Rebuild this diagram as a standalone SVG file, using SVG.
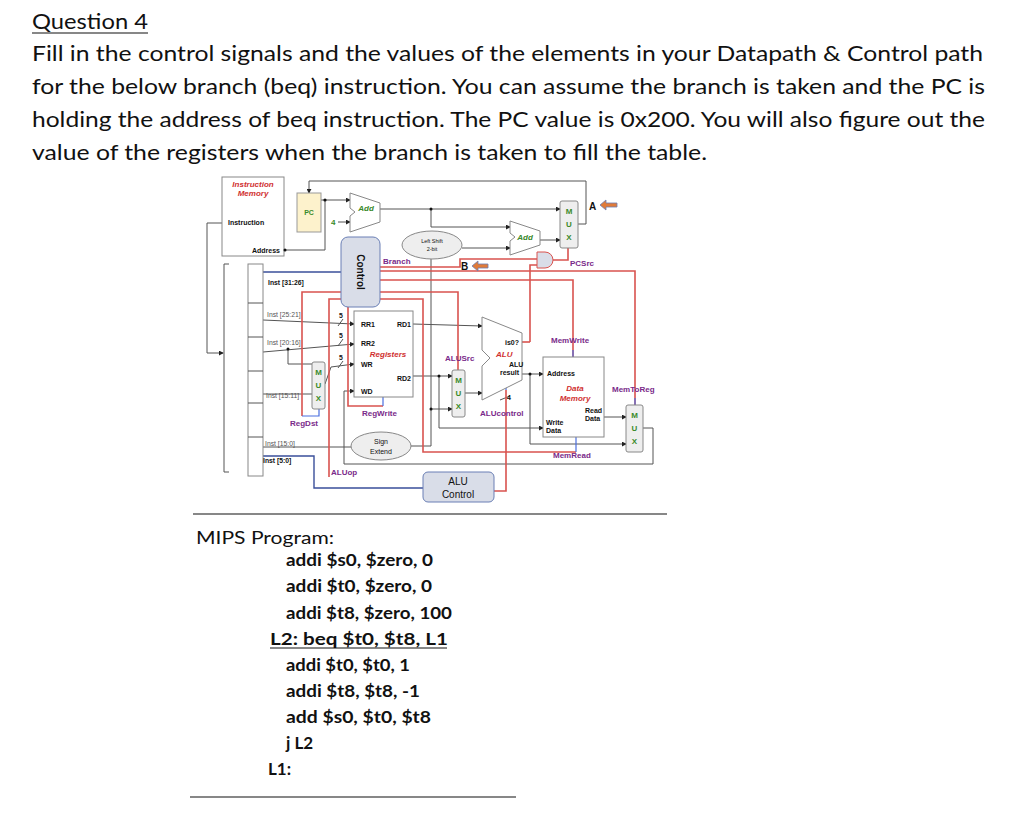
<svg xmlns="http://www.w3.org/2000/svg" width="1024" height="820" viewBox="0 0 1024 820">
<defs>
<marker id="ar" viewBox="0 0 6 6" refX="5" refY="3" markerWidth="5" markerHeight="5" orient="auto"><path d="M0,0L6,3L0,6z" fill="#222"/></marker>
</defs>
<style>
.t{font-family:"Liberation Sans",Arial,sans-serif;fill:#111}
.L{font-family:Lato,"Open Sans",sans-serif;fill:#111}
.h{font-size:21.5px}
.s{font-size:7px;font-weight:bold}
.g{fill:#3a8a2a;font-weight:bold}
.p{fill:#7a2a8a;font-weight:bold;font-size:8px}
.r{fill:#d03030;font-style:italic;font-weight:bold}
.w{fill:none;stroke:#555;stroke-width:1}
.c{fill:none;stroke:#d9534f;stroke-width:1.6}
.b{fill:none;stroke:#3a4f9a;stroke-width:1.4}
.u{fill:none;stroke:#4a6ee0;stroke-width:1.2}
.box{fill:#fff;stroke:#888;stroke-width:1}
.mux{fill:#eee;stroke:#888;stroke-width:1}
.code{font-size:17px;font-weight:bold}
.oa{fill:#e07b39;stroke:#6a7fb5;stroke-width:0.8}
</style>
<rect width="1024" height="820" fill="#fff"/>
<text class="L h" x="32" y="29" textLength="116" lengthAdjust="spacingAndGlyphs">Question 4</text>
<line x1="32" y1="33" x2="148" y2="33" stroke="#111" stroke-width="1.2"/>
<text class="L h" x="32" y="61" textLength="951" lengthAdjust="spacingAndGlyphs">Fill in the control signals and the values of the elements in your Datapath &amp; Control path</text>
<text class="L h" x="32" y="94" textLength="953" lengthAdjust="spacingAndGlyphs">for the below branch (beq) instruction. You can assume the branch is taken and the PC is</text>
<text class="L h" x="32" y="127" textLength="953" lengthAdjust="spacingAndGlyphs">holding the address of beq instruction. The PC value is 0x200. You will also figure out the</text>
<text class="L h" x="32" y="160" textLength="675" lengthAdjust="spacingAndGlyphs">value of the registers when the branch is taken to fill the table.</text>

<g id="connectors">
<polyline class="w" points="578,224 586,224 586,181 309,181 309,193" marker-end="url(#ar)"/>
<polyline class="w" points="321,200 350,200" marker-end="url(#ar)"/>
<polyline class="w" points="325,200 325,250 285,250"/>
<polyline class="w" points="338,222 350,222" marker-end="url(#ar)"/>
<polyline class="w" points="380,209 560,209" marker-end="url(#ar)"/>
<polyline class="w" points="431,209 431,227 510,227" marker-end="url(#ar)"/>
<polyline class="w" points="462,248 510,248" marker-end="url(#ar)"/>
<polyline class="w" points="540,240 560,240" marker-end="url(#ar)"/>
<polyline class="w" points="222,223 207,223 207,353 223,353" marker-end="url(#ar)"/>
<polyline class="w" points="224,264 224,472"/>
<line class="w" x1="224" y1="264" x2="229" y2="264"/><line class="w" x1="224" y1="472" x2="229" y2="472"/>
<polyline class="w" points="263,320 354,324" marker-end="url(#ar)"/>
<polyline class="w" points="263,352 354,344" marker-end="url(#ar)"/>
<polyline class="w" points="288,349 288,364 312,364"/>
<polyline class="w" points="263,394 312,394"/>
<polyline class="w" points="325,384 331,367 354,364" marker-end="url(#ar)"/>
<polyline class="w" points="263,447 351,447"/>
<polyline class="w" points="411,446 431,446 431,259"/>
<polyline class="w" points="431,409 452,409" marker-end="url(#ar)"/>
<polyline class="w" points="413,324 482,326" marker-end="url(#ar)"/>
<polyline class="w" points="413,376 452,376" marker-end="url(#ar)"/>
<polyline class="w" points="439,376 439,428 543,428" marker-end="url(#ar)"/>
<polyline class="w" points="465,393 482,393" marker-end="url(#ar)"/>
<polyline class="w" points="522,374 543,374" marker-end="url(#ar)"/>
<polyline class="w" points="530,374 530,444 626,444" marker-end="url(#ar)"/>
<polyline class="w" points="604,417 626,417" marker-end="url(#ar)"/>
<polyline class="w" points="643,428 653,428 653,464 344,464 344,391 354,391" marker-end="url(#ar)"/>
<g stroke="#555" stroke-width="1">
<line x1="338" y1="326" x2="343" y2="319"/><line x1="338" y1="346" x2="343" y2="339"/><line x1="338" y1="368" x2="343" y2="361"/>
<line x1="500" y1="400" x2="510" y2="396"/>
</g>
<polyline class="b" points="263,272 341,272"/>
<polyline class="b" points="263,456 314,456 314,488 423,488"/>
<polyline class="c" points="380,267 460,267 460,259 537,259"/>
<polyline class="c" points="530,342 530,265 537,265"/>
<polyline class="c" points="553,260 568,260 568,248"/>
<polyline class="c" points="380,271 635,271 635,405"/>
<polyline class="c" points="380,280 573,280 573,357"/>
<polyline class="c" points="302,416 302,292 458,292 458,370"/>
<polyline class="c" points="329,477 329,299 423,299 423,452 576,452"/>
<polyline class="c" points="348,307 348,406 383,406"/>
<polyline class="c" points="494,491 506,491 506,390"/>
<polyline class="c" points="522,342 530,342"/>
<polyline class="u" points="302,416 319,416 319,409"/>
<polyline class="u" points="383,406 383,397"/>
<polyline class="u" points="573,357 573,350"/>
<polyline class="u" points="576,452 576,437"/>
<polyline class="u" points="635,405 635,398"/>
<polyline class="u" points="506,390 506,385"/>
</g>

<g id="imem"><rect class="box" x="222" y="177" width="62" height="79"/>
<text class="t r" x="253" y="187" font-size="8" text-anchor="middle">Instruction</text>
<text class="t r" x="253" y="196" font-size="8" text-anchor="middle">Memory</text>
<text class="t s" x="228" y="225">Instruction</text>
<text class="t s" x="252" y="253">Address</text><circle cx="285" cy="250" r="1.5" fill="#111"/></g>
<g id="pc"><rect x="297" y="193" width="24" height="39" fill="#fdf2cc" stroke="#999"/>
<text class="t g" x="309" y="215" font-size="7" text-anchor="middle">PC</text><circle cx="325" cy="200" r="1.6" fill="#111"/></g>
<text class="t g" x="331" y="225" font-size="8">4</text>
<g id="add1"><polygon class="box" points="350,193 380,203 380,222 350,232 350,216 355,212 350,208"/>
<text class="t g" x="366" y="211" font-size="8" font-style="italic" text-anchor="middle">Add</text><circle cx="431" cy="209" r="1.5" fill="#111"/></g>
<g id="shift"><ellipse cx="432" cy="245" rx="30" ry="14" fill="#eee" stroke="#888"/>
<text class="t" x="432" y="243" font-size="5.5" fill="#3a8a2a" text-anchor="middle">Left Shift</text>
<text class="t" x="432" y="251" font-size="5.5" fill="#3a8a2a" text-anchor="middle">2-bit</text></g>
<g id="add2"><polygon class="box" points="510,221 540,231 540,245 510,255 510,241 515,237 510,233"/>
<text class="t g" x="525" y="240" font-size="8" font-style="italic" text-anchor="middle">Add</text></g>
<g id="pcmux"><rect class="mux" x="560" y="201" width="18" height="47" rx="2"/>
<text class="t g" x="569" y="214" font-size="8" text-anchor="middle">M</text><text class="t g" x="569" y="227" font-size="8" text-anchor="middle">U</text><text class="t g" x="569" y="240" font-size="8" text-anchor="middle">X</text></g>
<text class="t" x="589" y="210" font-size="10" font-weight="bold">A</text>
<polygon class="oa" points="600,205 606,200 606,203 617,203 617,207 606,207 606,210"/>
<g id="and"><path d="M537,252 H545 A8,8 0 0 1 545,268 H537 Z" fill="#d9dde8" stroke="#d9534f"/></g>
<text class="t p" x="570" y="266">PCSrc</text>
<text class="t p" x="383" y="264">Branch</text>
<text class="t" x="461" y="270" font-size="10" font-weight="bold">B</text>
<polygon class="oa" points="472,266 478,261 478,264 488,264 488,268 478,268 478,271"/>
<g id="control"><rect x="341" y="237" width="39" height="70" rx="7" fill="#d9dde8" stroke="#6a7fb5"/>
<text class="t" x="0" y="0" font-size="10" font-weight="bold" fill="#d03030" text-anchor="middle" transform="translate(357,272) rotate(90)">Control</text></g>
<g id="ireg"><rect class="box" x="248" y="264" width="15" height="212"/>
<g stroke="#555"><line x1="248" y1="303" x2="263" y2="303"/><line x1="248" y1="337" x2="263" y2="337"/><line x1="248" y1="371" x2="263" y2="371"/><line x1="248" y1="403" x2="263" y2="403"/><line x1="248" y1="437" x2="263" y2="437"/></g></g>
<g font-size="6.8" class="t"><text x="268" y="285" font-weight="bold">Inst [31:26]</text>
<text x="267" y="317" fill="#555">Inst [25:21]</text>
<text x="267" y="345" fill="#555">Inst [20:16]</text>
<text x="266" y="398" fill="#555">Inst [15:11]</text>
<text x="265" y="446" fill="#555">Inst [15:0]</text>
<text x="263" y="463" font-weight="bold">Inst [5:0]</text>
<text x="339" y="318" font-weight="bold">5</text><text x="339" y="338" font-weight="bold">5</text><text x="339" y="360" font-weight="bold">5</text></g>
<circle cx="288" cy="349" r="1.5" fill="#111"/>
<g id="regdst"><rect class="mux" x="312" y="362" width="13" height="47" rx="2"/>
<text class="t g" x="318.5" y="375" font-size="8" text-anchor="middle">M</text><text class="t g" x="318.5" y="388" font-size="8" text-anchor="middle">U</text><text class="t g" x="318.5" y="401" font-size="8" text-anchor="middle">X</text></g>
<text class="t p" x="290" y="426">RegDst</text>
<g id="registers"><rect class="box" x="354" y="311" width="59" height="86"/>
<g class="t s"><text x="361" y="327">RR1</text><text x="397" y="327">RD1</text><text x="361" y="346">RR2</text><text x="361" y="367">WR</text><text x="397" y="381">RD2</text><text x="361" y="394">WD</text></g>
<text class="t r" x="388" y="357" font-size="8" text-anchor="middle">Registers</text></g>
<text class="t p" x="362" y="416">RegWrite</text>
<g id="signext"><ellipse cx="381" cy="446" rx="30" ry="14" fill="#eee" stroke="#888"/>
<text class="t" x="381" y="444" font-size="7" fill="#3a8a2a" text-anchor="middle">Sign</text>
<text class="t" x="381" y="454" font-size="7" fill="#3a8a2a" text-anchor="middle">Extend</text></g>
<text class="t p" x="331" y="475">ALUop</text>
<g id="alucontrol"><rect x="423" y="472" width="71" height="30" rx="5" fill="#d9dde8" stroke="#6a7fb5"/>
<text class="t" x="458" y="485" font-size="10" fill="#d03030" text-anchor="middle">ALU</text>
<text class="t" x="458" y="498" font-size="10" fill="#d03030" text-anchor="middle">Control</text></g>
<g id="alusrc"><rect class="mux" x="452" y="370" width="13" height="47" rx="2"/>
<text class="t g" x="458.5" y="383" font-size="8" text-anchor="middle">M</text><text class="t g" x="458.5" y="396" font-size="8" text-anchor="middle">U</text><text class="t g" x="458.5" y="409" font-size="8" text-anchor="middle">X</text></g>
<text class="t p" x="445" y="361">ALUSrc</text>
<circle cx="439" cy="376" r="1.5" fill="#111"/><circle cx="431" cy="409" r="1.5" fill="#111"/>
<g id="alu"><polygon class="box" points="482,317 522,333 522,380 482,400 482,366 490,358 482,350"/>
<text class="t s" x="505" y="345">is0?</text>
<text class="t r" x="496" y="357" font-size="8">ALU</text>
<text class="t s" x="509" y="367">ALU</text><text class="t s" x="500" y="375">result</text></g>
<circle cx="530" cy="374" r="1.5" fill="#111"/>
<text class="t s" x="507" y="400">4</text>
<text class="t p" x="480" y="416">ALUcontrol</text>
<g id="dmem"><rect class="box" x="543" y="357" width="61" height="80"/>
<text class="t s" x="547" y="376">Address</text>
<text class="t r" x="575" y="391" font-size="8" text-anchor="middle">Data</text>
<text class="t r" x="575" y="401" font-size="8" text-anchor="middle">Memory</text>
<text class="t s" x="585" y="413">Read</text><text class="t s" x="585" y="421">Data</text>
<text class="t s" x="546" y="425">Write</text><text class="t s" x="546" y="433">Data</text></g>
<text class="t p" x="551" y="343">MemWrite</text>
<text class="t p" x="553" y="458">MemRead</text>
<text class="t p" x="612" y="392">MemToReg</text>
<g id="memtoreg"><rect class="mux" x="626" y="405" width="17" height="47" rx="2"/>
<text class="t g" x="634.5" y="418" font-size="8" text-anchor="middle">M</text><text class="t g" x="634.5" y="431" font-size="8" text-anchor="middle">U</text><text class="t g" x="634.5" y="444" font-size="8" text-anchor="middle">X</text></g>

<line x1="193" y1="514" x2="667" y2="514" stroke="#111" stroke-width="1.2"/>
<text class="L" x="196" y="544" font-size="18" textLength="138" lengthAdjust="spacingAndGlyphs">MIPS Program:</text>
<g class="L code">
<text x="286" y="566" textLength="147" lengthAdjust="spacingAndGlyphs">addi $s0, $zero, 0</text>
<text x="286" y="592" textLength="146" lengthAdjust="spacingAndGlyphs">addi $t0, $zero, 0</text>
<text x="286" y="619" textLength="166" lengthAdjust="spacingAndGlyphs">addi $t8, $zero, 100</text>
<text x="270" y="645" textLength="178" lengthAdjust="spacingAndGlyphs">L2:  beq  $t0, $t8, L1</text>
<text x="286" y="671" textLength="124" lengthAdjust="spacingAndGlyphs">addi $t0, $t0, 1</text>
<text x="286" y="697" textLength="134" lengthAdjust="spacingAndGlyphs">addi $t8, $t8, -1</text>
<text x="286" y="723" textLength="145" lengthAdjust="spacingAndGlyphs">add  $s0, $t0, $t8</text>
<text x="286" y="749">j  L2</text>
<text x="268" y="775">L1:</text>
</g>
<line x1="270" y1="648" x2="447" y2="648" stroke="#111" stroke-width="1"/>
<line x1="190" y1="797" x2="516" y2="797" stroke="#111" stroke-width="1.2"/>
</svg>
